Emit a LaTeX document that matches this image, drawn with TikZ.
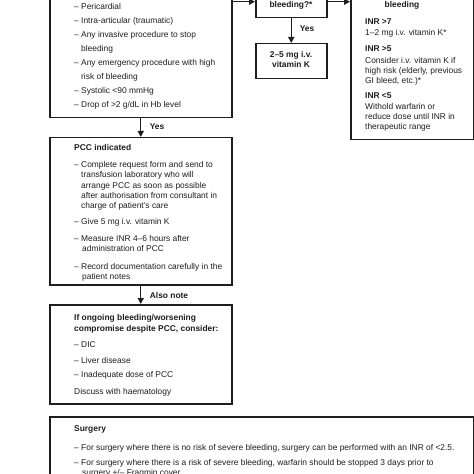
\documentclass[tikz,border=0pt]{standalone}
\usepackage{fontspec}
\setmainfont{Liberation Sans}
\usetikzlibrary{arrows.meta}
\definecolor{ink}{HTML}{1E1E1E}
\tikzset{
  box/.style={draw=ink, line width=1.5bp, fill=white, inner sep=0pt, anchor=north west},
  txt/.style={inner sep=0pt, anchor=base west, text=ink, font=\fontsize{8.4bp}{10bp}\selectfont},
  ctxt/.style={txt, anchor=base},
  arr/.style={draw=ink, line width=1.3bp, -{Triangle[length=6bp,width=6bp]}},
  lbl/.style={txt, anchor=base, font=\fontsize{8.4bp}{10bp}\selectfont\bfseries}
}
\newcommand\tl[4]{\node[txt] (#1) at (#2,#3+3) {#4};}
\newcommand\tb[4]{\node[txt,font=\fontsize{8.4bp}{10bp}\selectfont\bfseries] (#1) at (#2,#3+3) {#4};}
\newcommand\tc[4]{\node[ctxt,font=\fontsize{8.4bp}{10bp}\selectfont\bfseries] (#1) at (#2,#3+3) {#4};}
\begin{document}
\begin{tikzpicture}[x=1bp,y=-1bp]
\useasboundingbox (0,0) rectangle (474,474);
\clip (0,0) rectangle (474,474);
\fill[white] (0,0) rectangle (474,474);
% boxes
\node[box, minimum width=182bp, minimum height=187bp] (crit) at (49,-70) {};
\node[box, minimum width=71bp, minimum height=32bp] (q) at (255,-15) {};
\node[box, minimum width=71bp, minimum height=35bp] (vk) at (255,43) {};
\node[box, minimum width=123bp, minimum height=159bp] (rb) at (350,-20) {};
\node[box, minimum width=182bp, minimum height=147bp] (pcc) at (49,137) {};
\node[box, minimum width=182bp, minimum height=99bp] (chk) at (49,304) {};
\node[box, minimum width=424bp, minimum height=104bp] (surg) at (49,416) {};
% connectors
\draw[arr] (q.west -| crit.east) -- (q.west);
\draw[arr] (q.east) -- (q.east -| rb.west);
\draw[arr] (q.south) -- (vk.north);
\draw[arr] (crit.south) -- (pcc.north);
\draw[arr] (pcc.south) -- (chk.north);
\node[lbl] (yes1) at (307,32) {Yes};
\node[lbl] (yes2) at (157,130) {Yes};
\node[lbl] (also) at (169,298) {Also note};
% left criteria box
\tl{a1}{74}{7}{– Pericardial}
\tl{a2}{74}{21}{– Intra-articular (traumatic)}
\tl{a3}{74}{35}{– Any invasive procedure to stop}
\tl{a4}{81}{49}{bleeding}
\tl{a5}{74}{63}{– Any emergency procedure with high}
\tl{a6}{81}{77}{risk of bleeding}
\tl{a7}{74}{91}{– Systolic <90 mmHg}
\tl{a8}{74}{105}{– Drop of >2 g/dL in Hb level}
% middle boxes
\tc{q1}{291}{5}{bleeding?*}
\tc{k1}{291}{55}{2–5 mg i.v.}
\tc{k2}{291}{65}{vitamin K}
% right box
\tc{r0}{402}{5}{bleeding}
\tb{r1}{365}{22}{INR >7}
\tl{r2}{365}{33}{1–2 mg i.v. vitamin K*}
\tb{r3}{365}{49}{INR >5}
\tl{r4}{365}{61}{Consider i.v. vitamin K if}
\tl{r5}{365}{71}{high risk (elderly, previous}
\tl{r6}{365}{81}{GI bleed, etc.)*}
\tb{r7}{365}{96}{INR <5}
\tl{r8}{365}{107}{Withold warfarin or}
\tl{r9}{365}{117}{reduce dose until INR in}
\tl{r10}{365}{127}{therapeutic range}
% PCC box
\tb{p0}{74}{148}{PCC indicated}
\tl{p1}{74}{165}{– Complete request form and send to}
\tl{p2}{81}{175}{transfusion laboratory who will}
\tl{p3}{81}{186}{arrange PCC as soon as possible}
\tl{p4}{81}{196}{after authorisation from consultant in}
\tl{p5}{81}{206}{charge of patient’s care}
\tl{p6}{74}{222}{– Give 5 mg i.v. vitamin K}
\tl{p7}{74}{238}{– Measure INR 4–6 hours after}
\tl{p8}{82}{248}{administration of PCC}
\tl{p9}{74}{266}{– Record documentation carefully in the}
\tl{p10}{82}{276}{patient notes}
% also note box
\tb{c0}{74}{317}{If ongoing bleeding/worsening}
\tb{c1}{74}{328}{compromise despite PCC, consider:}
\tl{c2}{74}{344}{– DIC}
\tl{c3}{74}{360}{– Liver disease}
\tl{c4}{74}{374}{– Inadequate dose of PCC}
\tl{c5}{74}{391}{Discuss with haematology}
% surgery box
\tb{s0}{74}{428}{Surgery}
\tl{s1}{74}{447}{– For surgery where there is no risk of severe bleeding, surgery can be performed with an INR of <2.5.}
\tl{s2}{74}{462}{– For surgery where there is a risk of severe bleeding, warfarin should be stopped 3 days prior to}
\tl{s3}{82}{472}{surgery +/– Fragmin cover.}
\end{tikzpicture}
\end{document}
